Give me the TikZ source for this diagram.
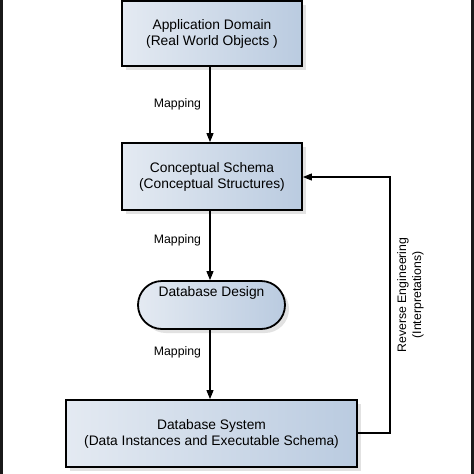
\documentclass[tikz,border=0pt]{standalone}
\usepackage{fontspec}
\setmainfont{Liberation Sans}
\usetikzlibrary{arrows.meta,shapes.misc,shadows,calc}
\definecolor{boxL}{HTML}{E4EAF2}
\definecolor{boxR}{HTML}{BACBE0}
\definecolor{shadowc}{HTML}{E2E2E2}
\begin{document}
\begin{tikzpicture}[x=1pt,y=-1pt,
  boxstyle/.style={draw=black,line width=1.8pt,left color=boxL,right color=boxR,
    align=center,font=\fontsize{13.8}{16}\selectfont,inner sep=0pt,
    drop shadow={shadow xshift=4pt,shadow yshift=-4pt,fill=shadowc,opacity=1}},
  conn/.style={line width=1.1pt,-{Triangle[length=9pt,width=7pt]}},
  lbl/.style={font=\fontsize{12.3}{15}\selectfont,inner sep=0pt}]
\useasboundingbox (0,0) rectangle (474,474);
\fill[white] (0,0) rectangle (474,474);
\fill[black!90] (0,0) rectangle (3,474);
\fill[black!90] (471,0) rectangle (474,474);
\node[boxstyle,minimum width=180pt,minimum height=65pt] (ad) at (212,33.5)
  {Application Domain\\(Real World Objects )};
\node[boxstyle,minimum width=180pt,minimum height=67pt] (cs) at (212,176.5)
  {Conceptual Schema\\(Conceptual Structures)};
\node[boxstyle,rounded rectangle,minimum width=147pt,minimum height=48pt] (dd) at (211.5,305) {};
\node[font=\fontsize{13.8}{16}\selectfont,inner sep=0pt] (ddt) at (211.5,293) {Database Design};
\node[boxstyle,minimum width=291pt,minimum height=67pt] (ds) at (211.5,433.5)
  {Database System\\(Data Instances and Executable Schema)};
\draw[conn] (ad.south -| 210,0) -- (cs.north -| 210,0);
\draw[conn] (cs.south -| 210,0) -- (dd.north -| 210,0);
\draw[conn] (dd.south -| 210,0) -- (ds.north -| 210,0);
\node[lbl] (m1) at (177.5,104) {Mapping};
\node[lbl] (m2) at (177.5,240) {Mapping};
\node[lbl] (m3) at (177.5,352) {Mapping};
\coordinate (c1) at (390,433);
\coordinate (c2) at (390,177);
\draw[conn] (ds.east |- c1) -- (c1) -- (c2) -- (cs.east |- c2);
\node[lbl,rotate=90,align=center] (re) at (410.5,295)
  {Reverse Engineering\\(Interpretations)};
\end{tikzpicture}
\end{document}
